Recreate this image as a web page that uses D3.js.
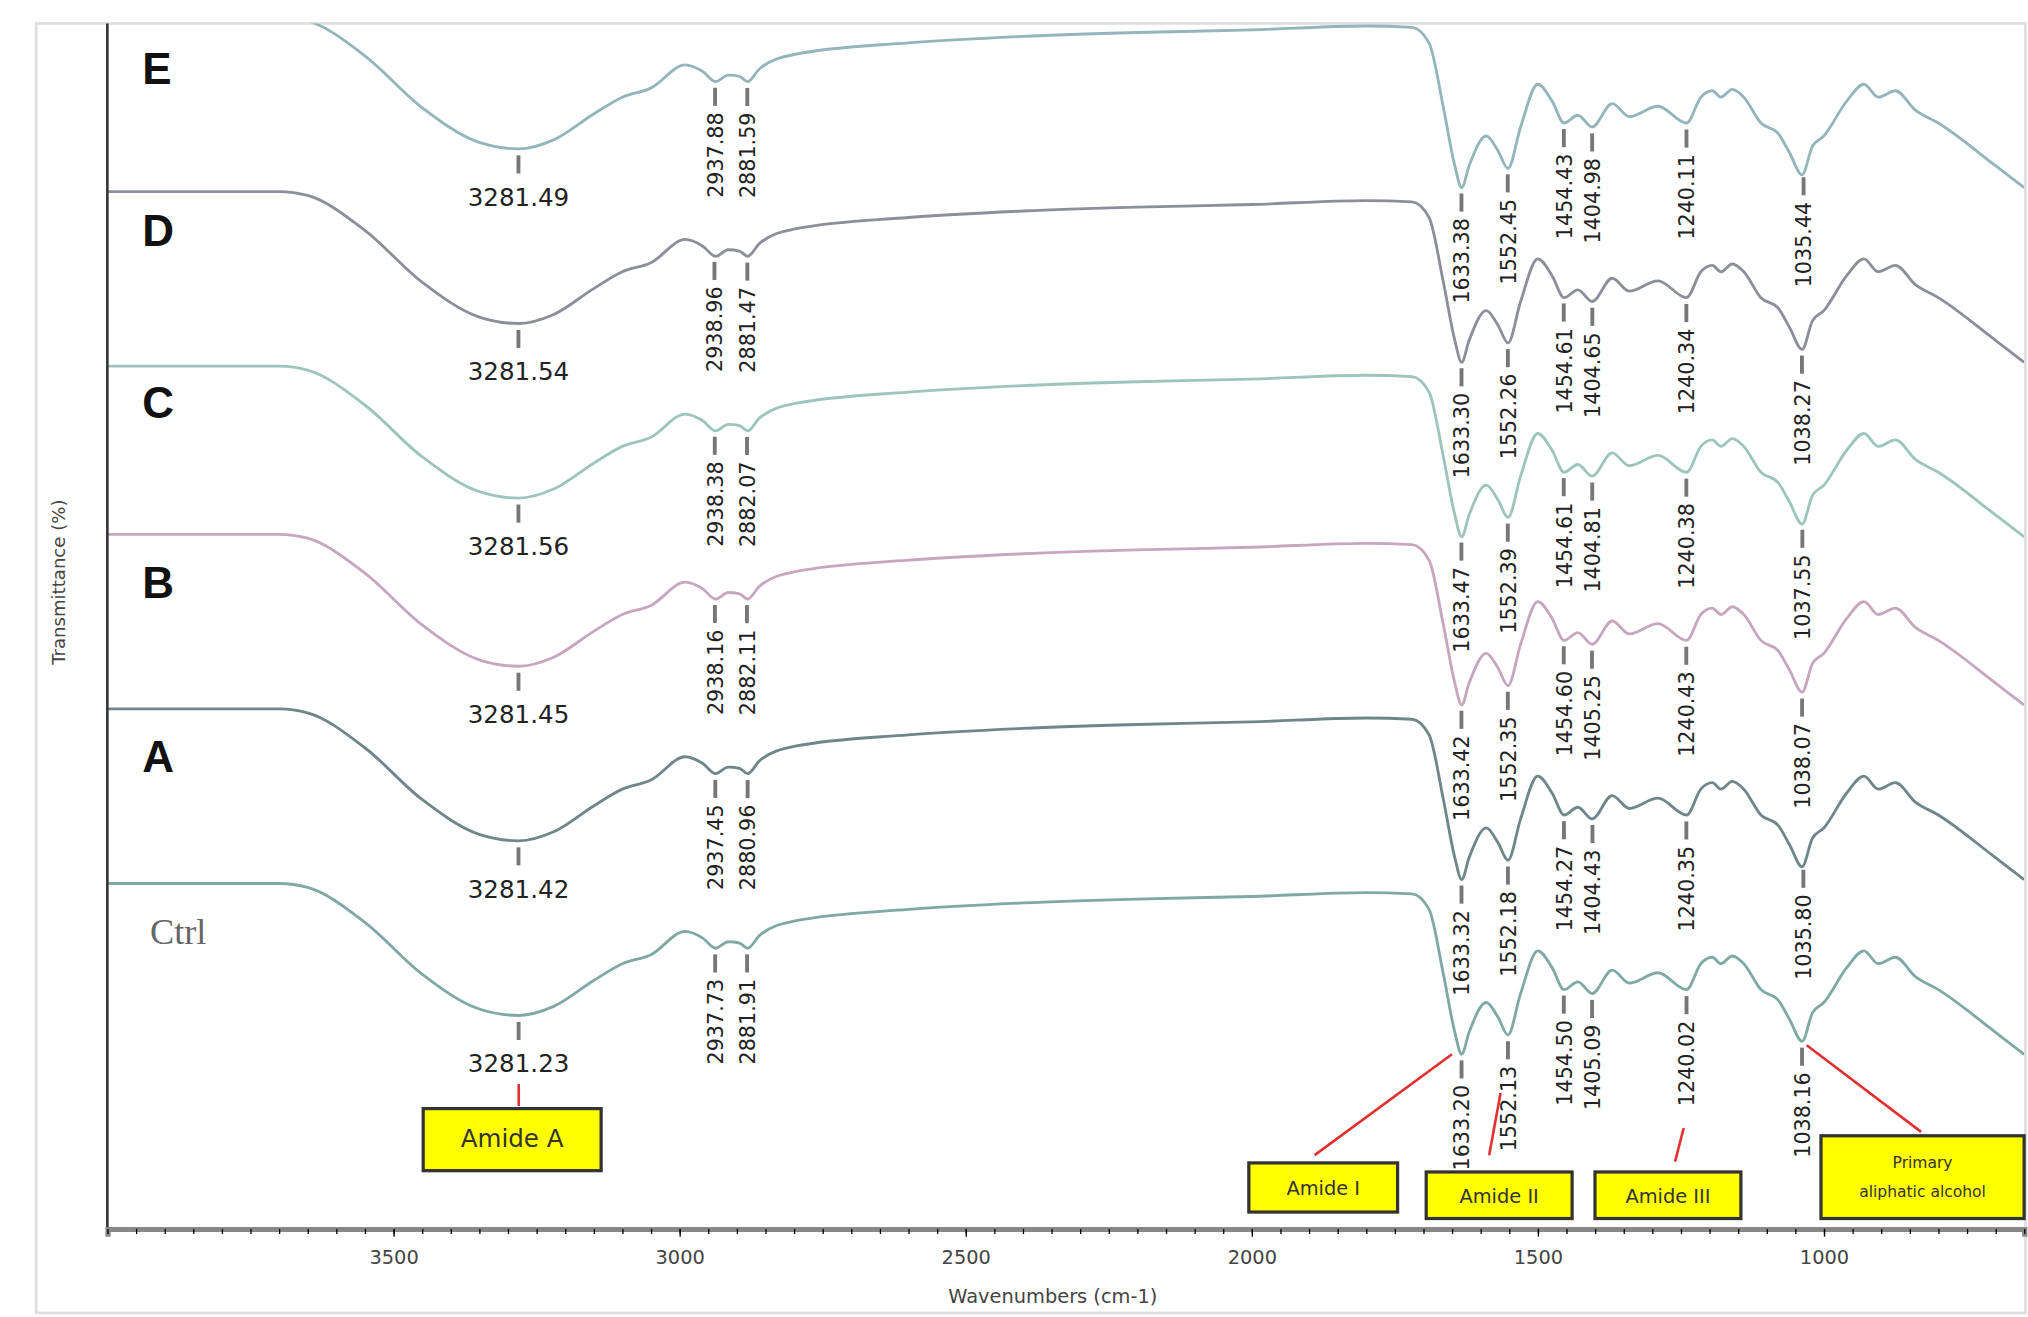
<!DOCTYPE html>
<html><head><meta charset="utf-8">
<script src="https://cdn.jsdelivr.net/npm/d3@7"></script>
<style>body{margin:0;background:#fff}</style></head>
<body><svg id="c"></svg>
<script>
// band profile shared by all samples: wavenumber and absorption depth
const wavenumbers = [4000,3700,3650,3550,3450,3350,3281,3220,3150,3100,3050,2990,2960,2937,2915,2895,2881,2860,2800,2600,2400,2200,2000,1800,1720,1690,1665,1645,1633,1620,1590,1570,1552,1530,1500,1475,1454,1430,1405,1370,1340,1290,1240,1215,1195,1180,1160,1140,1110,1080,1060,1038,1020,1000,960,930,905,875,840,800,700,650];
const depth = [0,0,3,30,70,97,102,95,75,62,55,37,42,50,45,46,50,40,29,20,15,12,10,7,8,20,70,115,132,115,92,103,117,85,52,65,82,76,85,67,77,69,82,62,57,62,56,62,82,90,105,122,100,92,65,52,62,57,72,82,115,132];
const sampleNames = ["Ctrl","A","B","C","D","E"];
const baselines = [267,402,537,667,802,937];
const colors = ["#7fa9a2","#6f8788","#c7a6bf","#9dc5bb","#8c8f99","#93b5bb"];
const peaks = [
 ["3281.23","2937.73","2881.91","1633.20","1552.13","1454.50","1405.09","1240.02","1038.16"],
 ["3281.42","2937.45","2880.96","1633.32","1552.18","1454.27","1404.43","1240.35","1035.80"],
 ["3281.45","2938.16","2882.11","1633.42","1552.35","1454.60","1405.25","1240.43","1038.07"],
 ["3281.56","2938.38","2882.07","1633.47","1552.39","1454.61","1404.81","1240.38","1037.55"],
 ["3281.54","2938.96","2881.47","1633.30","1552.26","1454.61","1404.65","1240.34","1038.27"],
 ["3281.49","2937.88","2881.59","1633.38","1552.45","1454.43","1404.98","1240.11","1035.44"]];
const xTicks = [3500,3000,2500,2000,1500,1000];
const bands = [
 {name:"Amide A", box:[3448,3137], wn:3281},
 {name:"Amide I", box:[2005,1745], wn:1640},
 {name:"Amide II", box:[1695,1440], wn:1560},
 {name:"Amide III", box:[1400,1145], wn:1245},
 {name:"Primary|aliphatic alcohol", box:[1005,650], wn:1030}];

const W=1568,H=1018;
const svg=d3.select("#c").attr("width",2028).attr("height",1317).attr("viewBox",`0 0 ${W} ${H}`);
const L=83,R=1565,T=18,B=950;
const x=d3.scaleLinear().domain([4000,650]).range([L,R]);
const y=d3.scaleLinear().domain([0,932]).range([B,T]);
svg.append("rect").attr("x",28).attr("y",18).attr("width",1538).attr("height",997).attr("fill","none").attr("stroke","#ddd").attr("stroke-width",2);
svg.append("clipPath").attr("id","cp").append("rect").attr("x",L).attr("y",T).attr("width",R-L).attr("height",B-T);
const font="'DejaVu Sans', sans-serif";
const depthAt=d3.scaleLinear().domain(wavenumbers.slice().reverse()).range(depth.slice().reverse());

sampleNames.forEach((n,i)=>{
  const pts=wavenumbers.map((w,j)=>[w,baselines[i]-depth[j]]);
  svg.append("path").attr("clip-path","url(#cp)").attr("d",d3.line().x(d=>x(d[0])).y(d=>y(d[1])).curve(d3.curveMonotoneX)(pts))
    .attr("fill","none").attr("stroke",colors[i]).attr("stroke-width",2.2);
  peaks[i].forEach((p,k)=>{
    const w=+p, yd=y(baselines[i]-depthAt(w));
    svg.append("line").attr("x1",x(w)).attr("x2",x(w)).attr("y1",yd+5).attr("y2",yd+19).attr("stroke","#777").attr("stroke-width",3);
    if(k===0){
      svg.append("text").attr("x",x(w)).attr("y",yd+44).attr("text-anchor","middle").attr("font-family",font).attr("font-size",19).attr("fill","#222").text(p);
    } else {
      svg.append("text").attr("transform",`translate(${x(w)+6},${yd+24}) rotate(-90)`).attr("text-anchor","end").attr("font-family",font).attr("font-size",16).attr("fill","#222").text(p);
    }
  });
  const ly=[720,587,452,313,180,55][i];
  svg.append("text").attr("x",n==="Ctrl"?116:110).attr("y",ly+10).attr("font-family",n==="Ctrl"?"'Liberation Serif', serif":"'Liberation Sans', sans-serif")
    .attr("font-size",n==="Ctrl"?28:34).attr("font-weight",n==="Ctrl"?"normal":"bold").attr("fill",n==="Ctrl"?"#666":"#111").text(n);
});

// axes
svg.append("line").attr("x1",L).attr("x2",L).attr("y1",T).attr("y2",B).attr("stroke","#333").attr("stroke-width",2);
const ax=svg.append("g").attr("transform",`translate(0,${B})`).call(d3.axisBottom(x).tickValues(xTicks).tickSize(6).tickFormat(d3.format("d")));
ax.select(".domain").attr("stroke","#888").attr("stroke-width",4);
ax.selectAll("text").attr("font-family",font).attr("font-size",15).attr("fill","#444").attr("dy","1.2em");
svg.append("g").attr("transform",`translate(0,${B})`).call(d3.axisBottom(x).ticks(60).tickSize(4).tickFormat("")).select(".domain").remove();
svg.append("text").attr("x",(L+R)/2-10).attr("y",1007).attr("text-anchor","middle").attr("font-family",font).attr("font-size",15).attr("fill","#444").text("Wavenumbers (cm-1)");
svg.append("text").attr("transform","translate(50,450) rotate(-90)").attr("text-anchor","middle").attr("font-family",font).attr("font-size",14).attr("fill","#444").text("Transmittance (%)");

// band annotations
const byPos=[[857,905],[899,937],[906,942],[906,942],[878,942]];
const lines=[[[3281,838],[3281,855]],[[1890,893],[1650,815]],[[1585,893],[1565,845]],[[1260,898],[1245,872]],[[830,875],[1030,808]]];
bands.forEach((b,i)=>{
  const [y0,y1]=byPos[i];
  svg.append("line").attr("x1",x(lines[i][0][0])).attr("y1",lines[i][0][1]).attr("x2",x(lines[i][1][0])).attr("y2",lines[i][1][1]).attr("stroke","#e03030").attr("stroke-width",2);
  svg.append("rect").attr("x",x(b.box[0])).attr("y",y0).attr("width",x(b.box[1])-x(b.box[0])).attr("height",y1-y0)
    .attr("fill","#ffff00").attr("stroke","#333").attr("stroke-width",2.5);
  const parts=b.name.split("|");
  parts.forEach((t,j)=>{
    svg.append("text").attr("x",(x(b.box[0])+x(b.box[1]))/2).attr("y",(y0+y1)/2+(j-(parts.length-1)/2)*22+ (parts.length>1?4:6))
      .attr("text-anchor","middle").attr("font-family",font).attr("font-size",parts.length>1?12:(i===0?19:15)).attr("fill","#333").text(t);
  });
});
</script></body></html>
